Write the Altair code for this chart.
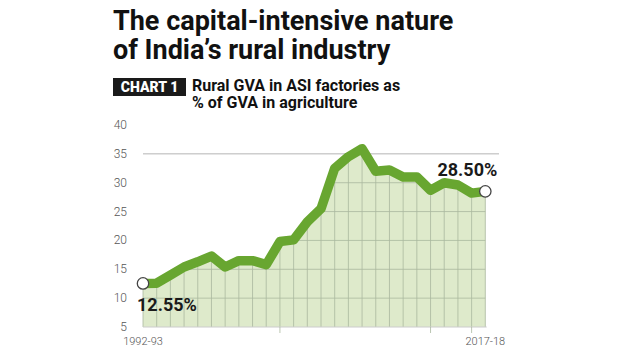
import altair as alt
import pandas as pd

years = [f"{y}-{str(y + 1)[-2:]}" for y in range(1992, 2018)]
values = [12.55, 12.6, 14.0, 15.4, 16.3, 17.3, 15.4, 16.5, 16.5, 15.8,
          19.8, 20.1, 23.2, 25.5, 32.5, 34.5, 35.9, 32.0, 32.2, 31.0,
          31.0, 28.7, 30.0, 29.6, 28.2, 28.5]
y_ticks = [5, 10, 15, 20, 25, 30, 35, 40]
grid_levels = [10, 15, 20, 25, 30]
tick_idx = [10, 21, 24]
title_lines = ["The capital-intensive nature", "of India\u2019s rural industry"]
subtitle_lines = ["Rural GVA in ASI factories as", "% of GVA in agriculture"]
chart_tag = "CHART 1"

df = pd.DataFrame({"i": list(range(len(values))), "year": years, "v": values})
df["base"] = 5
df["top"] = 40
ends = df.iloc[[0, -1]].copy()
ends["lbl"] = [f"{v:.2f}%" for v in ends["v"]]

FONT = "Roboto"
W, H = 356, 202
xs = alt.Scale(domain=[0, 26], nice=False)
ys = alt.Scale(domain=[5, 40], nice=False)


def X(f):
    return alt.X(f, scale=xs, axis=None)


def Y(f):
    return alt.Y(f, scale=ys, axis=None)


base = alt.Chart(df)

area = base.mark_area(color="#deeacb", interpolate="linear").encode(
    x=X("i:Q"), y=Y("v:Q"), y2="base:Q")

hgrid = alt.Chart(pd.DataFrame({"g": grid_levels, "x0": 0, "x1": 25})).mark_rule(
    color="#aab79e", strokeWidth=0.8).encode(x=X("x0:Q"), x2="x1:Q", y=Y("g:Q"))

vgrid = base.mark_rule(color="#aab79e", strokeWidth=0.8).encode(
    x=X("i:Q"), y=Y("base:Q"), y2="v:Q")

mask = base.mark_area(color="white", interpolate="linear").encode(
    x=X("i:Q"), y=Y("v:Q"), y2="top:Q")

line35 = alt.Chart(pd.DataFrame({"g": [35], "x0": 0, "x1": 26})).mark_rule(
    color="#b5b5b5", strokeWidth=1).encode(x=X("x0:Q"), x2="x1:Q", y=Y("g:Q"))

baseline = alt.Chart(pd.DataFrame({"g": [5], "x0": 0, "x1": 25.1})).mark_rule(
    color="#cccccc", strokeWidth=1).encode(x=X("x0:Q"), x2="x1:Q", y=Y("g:Q"))

ticks = alt.Chart(pd.DataFrame({"t": tick_idx})).mark_rule(
    color="#aab79e", strokeWidth=0.8).encode(
    x=X("t:Q"), y=alt.value(H), y2=alt.value(H + 6))

line = base.mark_line(color="#68a630", strokeWidth=9.5, strokeJoin="round",
                      strokeCap="round").encode(x=X("i:Q"), y=Y("v:Q"))

dots = alt.Chart(ends).mark_point(filled=True, fill="white", stroke="#444",
                                  strokeWidth=1.3, size=130, opacity=1).encode(
    x=X("i:Q"), y=Y("v:Q"))

ylabels = alt.Chart(pd.DataFrame({"t": y_ticks})).mark_text(
    font=FONT, fontSize=12, fontWeight=300, color="#555", align="right",
    baseline="middle").encode(
    x=alt.value(-16), y=Y("t:Q"), text=alt.Text("t:Q", format="d"))

xlabels = alt.Chart(df.iloc[[0, -1]]).mark_text(
    font=FONT, fontSize=11, fontWeight=300, color="#555", align="center",
    baseline="alphabetic").encode(
    x=X("i:Q"), y=alt.value(H + 18), text="year:N")

lbl_first = alt.Chart(ends.iloc[[0]]).mark_text(
    font=FONT, fontSize=18, fontWeight="bold", color="#1a1a1a", align="left",
    baseline="alphabetic", dx=-6, dy=28).encode(x=X("i:Q"), y=Y("v:Q"), text="lbl:N")
lbl_last = alt.Chart(ends.iloc[[1]]).mark_text(
    font=FONT, fontSize=18, fontWeight="bold", color="#1a1a1a", align="right",
    baseline="alphabetic", dx=12, dy=-15).encode(x=X("i:Q"), y=Y("v:Q"), text="lbl:N")

one = pd.DataFrame({"a": [0]})
title1 = alt.Chart(one).mark_text(font=FONT, fontSize=27, fontWeight="bold", color="#111",
                                  align="left", baseline="alphabetic").encode(
    x=alt.value(-30), y=alt.value(-95), text=alt.value(title_lines[0]))
title2 = alt.Chart(one).mark_text(font=FONT, fontSize=27, fontWeight="bold", color="#111",
                                  align="left", baseline="alphabetic").encode(
    x=alt.value(-30), y=alt.value(-66), text=alt.value(title_lines[1]))
tagbox = alt.Chart(one).mark_rect(color="#1a1a1a").encode(
    x=alt.value(-30), x2=alt.value(43), y=alt.value(-47), y2=alt.value(-29))
tag = alt.Chart(one).mark_text(font=FONT, fontSize=14, fontWeight=900, color="white",
                               align="center", baseline="alphabetic").encode(
    x=alt.value(6.5), y=alt.value(-33), text=alt.value(chart_tag))
sub1 = alt.Chart(one).mark_text(font=FONT, fontSize=16, fontWeight="bold", color="#111",
                                align="left", baseline="alphabetic").encode(
    x=alt.value(49), y=alt.value(-34), text=alt.value(subtitle_lines[0]))
sub2 = alt.Chart(one).mark_text(font=FONT, fontSize=16, fontWeight="bold", color="#111",
                                align="left", baseline="alphabetic").encode(
    x=alt.value(49), y=alt.value(-17), text=alt.value(subtitle_lines[1]))

chart = alt.layer(
    area, hgrid, vgrid, mask, line35, baseline, ticks, line, dots, ylabels, xlabels,
    lbl_first, lbl_last, title1, title2, tagbox, tag, sub1, sub2
).properties(
    width=W, height=H, autosize=alt.AutoSizeParams(type="none"),
    padding={"left": 135, "top": 117, "right": 133, "bottom": 25},
    background="white",
).configure_view(stroke=None)

chart.save("out.html", embed_options={"renderer": "svg", "actions": False})
